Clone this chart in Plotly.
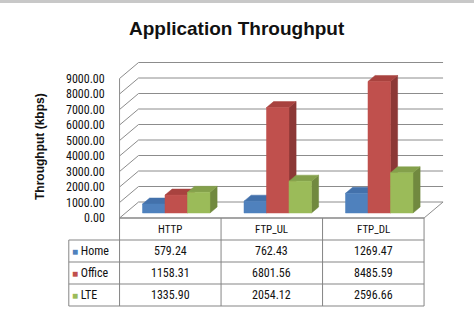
import plotly.graph_objects as go

# ---------------- data ----------------
categories = ["HTTP", "FTP_UL", "FTP_DL"]
series_names = ["Home", "Office", "LTE"]
home = [579.24, 762.43, 1269.47]
office = [1158.31, 6801.56, 8485.59]
lte = [1335.90, 2054.12, 2596.66]
series_values = [home, office, lte]
y_ticks = [0, 1000, 2000, 3000, 4000, 5000, 6000, 7000, 8000, 9000]
title_text = "Application Throughput"
y_title = "Throughput (kbps)"

# ---------------- styles ----------------
front_colors = ["#4F81BD", "#C0504D", "#9BBB59"]
top_colors = ["#4371AB", "#A8423F", "#84A04B"]
side_colors = ["#385D8A", "#8C3836", "#71893F"]
grid_color = "#8C8C8C"
table_color = "#858585"
text_color = "#111111"
narrow = "Liberation Sans Narrow, Arial Narrow, Roboto Condensed, Liberation Sans, sans-serif"
bold_font = "Liberation Sans, Arial, sans-serif"

W, H = 474, 316
PX_PER_CAT = 101.5       # pixels per category on the front plane
X0_PX = 170.3            # pixel x of category 0 centre (front plane)
Y0_PX = 218.0            # pixel y of value 0 (front plane)
PX_PER_VAL = 0.0155      # pixels per kbps

x_range = [-X0_PX / PX_PER_CAT, (W - X0_PX) / PX_PER_CAT]
y_range = [-(H - Y0_PX) / PX_PER_VAL, Y0_PX / PX_PER_VAL]

# oblique depth (full floor depth) in axis units
DDX = 19.0 / PX_PER_CAT
DDY = 16.0 / PX_PER_VAL


def P(x, v, d):
    return x + d * DDX, v + d * DDY


def py(px):
    return 1 - px / H


fig = go.Figure()

# ---------------- walls / grid ----------------
x_left, x_right = -0.5, 2.5
gx, gy = [], []
for t in y_ticks:
    for pt in (P(x_left, t, 0), P(x_left, t, 1), P(x_right, t, 1)):
        gx.append(pt[0]); gy.append(pt[1])
    gx.append(None); gy.append(None)
for pt in (P(x_left, 0, 0), P(x_left, y_ticks[-1], 0)):
    gx.append(pt[0]); gy.append(pt[1])
gx.append(None); gy.append(None)
for pt in (P(x_left, 0, 0), P(x_right, 0, 0), P(x_right, 0, 1)):
    gx.append(pt[0]); gy.append(pt[1])
fig.add_trace(go.Scatter(x=gx, y=gy, mode="lines", line=dict(color=grid_color, width=1),
                         hoverinfo="skip", showlegend=False))

# ---------------- 3D bars ----------------
bw = 22.5 / PX_PER_CAT
d_front = 5.0 / 16.0
d_back = d_front + 6.0 / 16.0


def poly(pts, color):
    xs = [p[0] for p in pts] + [pts[0][0]]
    ys = [p[1] for p in pts] + [pts[0][1]]
    fig.add_trace(go.Scatter(x=xs, y=ys, mode="lines", fill="toself", fillcolor=color,
                             line=dict(color=color, width=0.5), hoverinfo="skip",
                             showlegend=False))


for i, cat in enumerate(categories):
    for j, vals in enumerate(series_values):
        v = vals[i]
        xl = i + (j - 1.5) * bw
        xr = xl + bw
        poly([P(xr, 0, d_front), P(xr, 0, d_back), P(xr, v, d_back), P(xr, v, d_front)], side_colors[j])
        poly([P(xl, v, d_front), P(xr, v, d_front), P(xr, v, d_back), P(xl, v, d_back)], top_colors[j])
        poly([P(xl, 0, d_front), P(xr, 0, d_front), P(xr, v, d_front), P(xl, v, d_front)], front_colors[j])

# ---------------- data table ----------------
row_px = [218, 240, 262, 284, 306]
x_legend = -1.0
shapes = []


def hline(x0, x1, ypx):
    shapes.append(dict(type="line", xref="x", yref="paper", x0=x0, x1=x1, y0=py(ypx), y1=py(ypx),
                       line=dict(color=table_color, width=1)))


def vline(x, y0px, y1px):
    shapes.append(dict(type="line", xref="x", yref="paper", x0=x, x1=x, y0=py(y0px), y1=py(y1px),
                       line=dict(color=table_color, width=1)))


hline(x_left, x_right, row_px[0])
for r in row_px[1:]:
    hline(x_legend, x_right, r)
vline(x_legend, row_px[1], row_px[-1])
for k in range(len(categories) + 1):
    vline(x_left + k, row_px[0], row_px[-1])

# top border band of the picture
shapes.append(dict(type="rect", xref="paper", yref="paper", x0=0, x1=1, y0=py(3), y1=1,
                   fillcolor="#C8C8C8", line=dict(width=0)))


def A(**kw):
    kw.setdefault("showarrow", False)
    kw.setdefault("xanchor", "center")
    kw.setdefault("yanchor", "middle")
    return kw


ann = []
for i, cat in enumerate(categories):
    ann.append(A(x=i, xref="x", y=py((row_px[0] + row_px[1]) / 2), yref="paper", text=cat,
                 font=dict(family=narrow, size=11, color=text_color)))
for j, name in enumerate(series_names):
    yc = py((row_px[j + 1] + row_px[j + 2]) / 2)
    ann.append(A(x=x_legend, xref="x", y=yc, yref="paper", xanchor="left", xshift=1,
                 text=f"<span style='color:{front_colors[j]};font-size:10px'>■</span> {name}",
                 font=dict(family=narrow, size=12, color=text_color)))
    for i in range(len(categories)):
        ann.append(A(x=i, xref="x", y=yc, yref="paper", text=f"{series_values[j][i]:.2f}",
                     font=dict(family=narrow, size=12, color=text_color)))

# y tick labels (front plane)
for t in y_ticks:
    ann.append(A(x=107 / W, xref="paper", y=t, yref="y", xanchor="right", text=f"{t:.2f}",
                 font=dict(family=narrow, size=12, color=text_color)))

ann.append(A(x=40 / W, xref="paper", y=py(147), yref="paper", text=f"<b>{y_title}</b>",
             textangle=-90, font=dict(family=bold_font, size=12, color=text_color)))
ann.append(A(x=236.5 / W, xref="paper", y=py(28), yref="paper", text=f"<b>{title_text}</b>",
             font=dict(family=bold_font, size=19, color=text_color)))

fig.update_layout(
    width=W, height=H, margin=dict(l=0, r=0, t=0, b=0),
    paper_bgcolor="white", plot_bgcolor="white",
    xaxis=dict(range=x_range, visible=False, fixedrange=True),
    yaxis=dict(range=y_range, visible=False, fixedrange=True),
    shapes=shapes, annotations=ann, showlegend=False,
)

fig.write_html("out.html")
